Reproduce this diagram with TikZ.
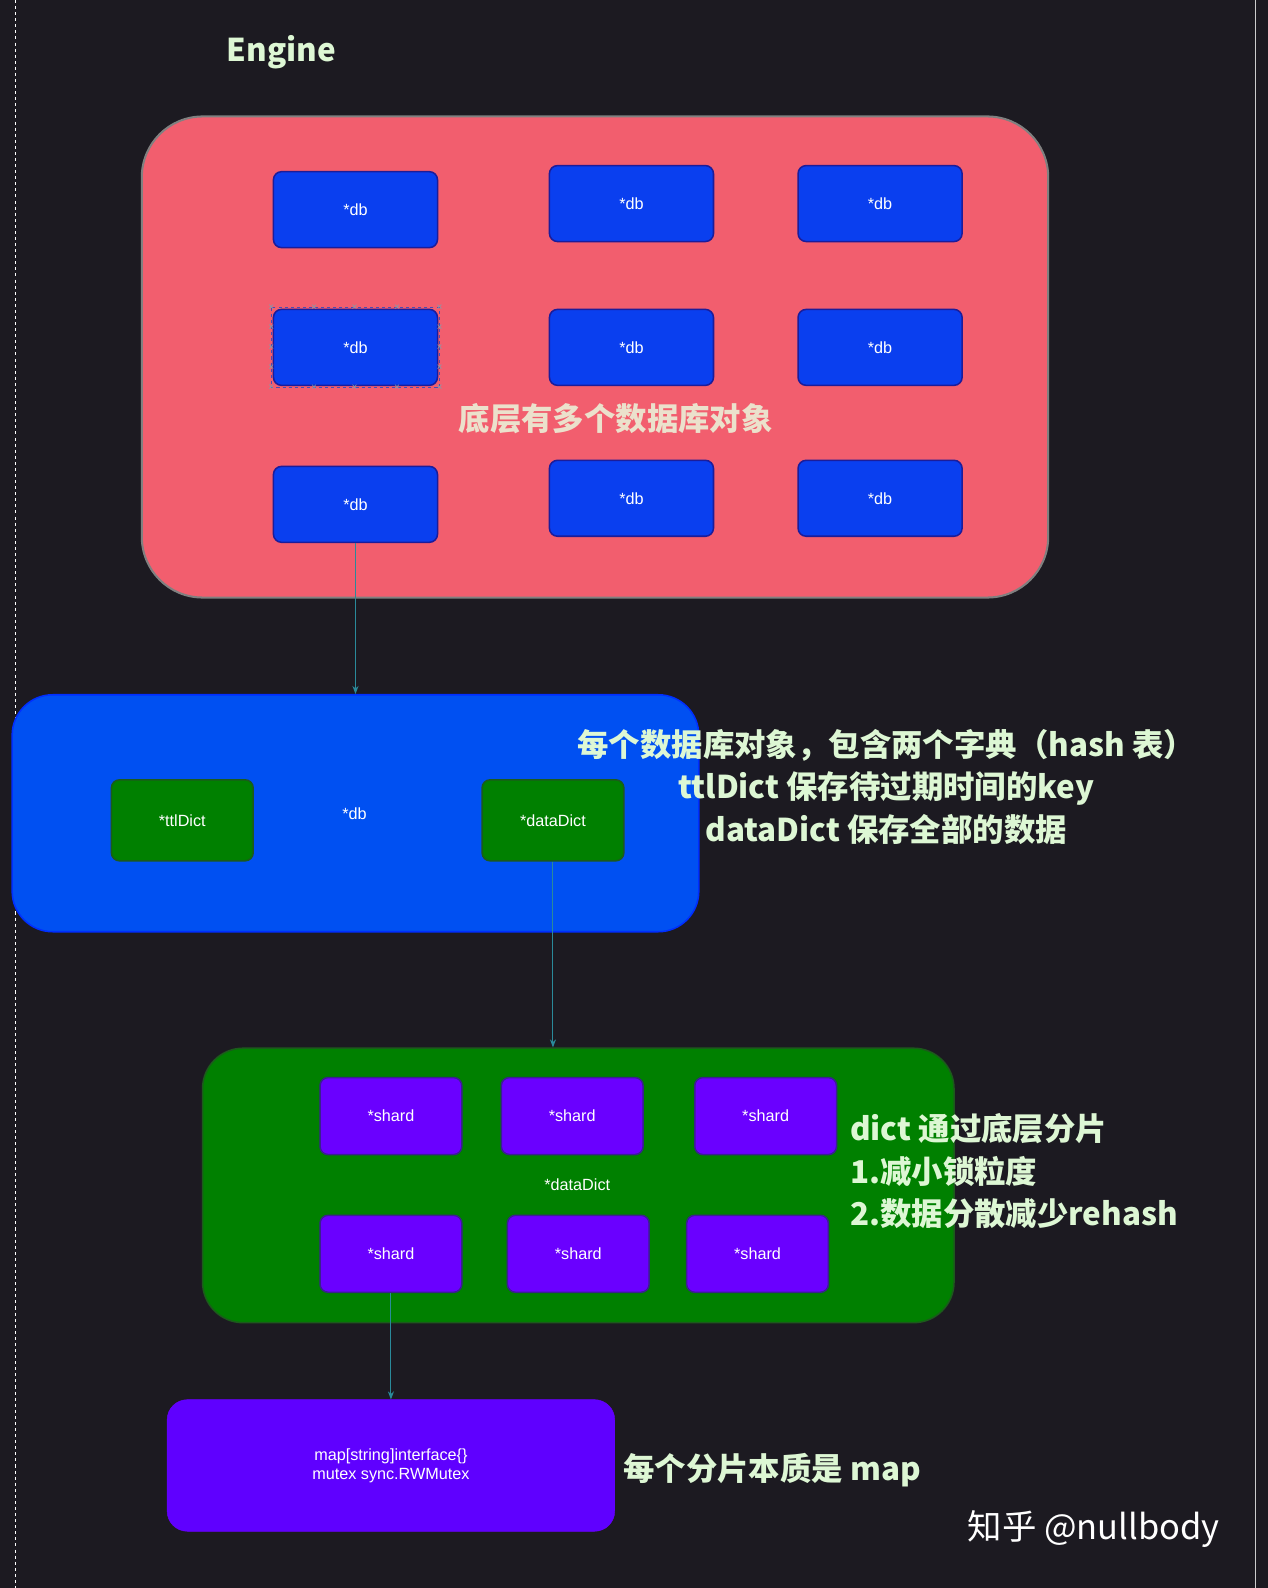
\documentclass[tikz,border=0pt]{standalone}
\usepackage{fontspec}
\setmainfont{Liberation Sans}
\newfontfamily\cjk{Noto Sans CJK SC}
\usetikzlibrary{arrows.meta}
\definecolor{bg}{HTML}{1C1A21}
\definecolor{redf}{HTML}{F25E6E}
\definecolor{dbf}{HTML}{0A3FEF}
\definecolor{dbd}{HTML}{1C1C9A}
\definecolor{bluef}{HTML}{0050F2}
\definecolor{greenf}{HTML}{008000}
\definecolor{greend}{HTML}{1C5A1C}
\definecolor{purf}{HTML}{6A00FF}
\definecolor{purd}{HTML}{3A2090}
\definecolor{teal}{HTML}{2A8A9A}
\definecolor{lgreen}{HTML}{DDF7D4}
\tikzset{x=1pt,y=-1pt,
 dbbox/.style={draw=dbd,fill=dbf,rounded corners=8pt,line width=1.5pt,minimum width=162pt,minimum height=75pt,text=white,font=\fontsize{16}{18}\selectfont},
 dictbox/.style={draw=greend,fill=greenf,rounded corners=8pt,line width=1.5pt,minimum width=140pt,minimum height=80pt,text=white,font=\fontsize{16}{18}\selectfont},
 shardbox/.style={draw=purd,fill=purf,rounded corners=8pt,line width=1.5pt,minimum width=140pt,minimum height=76pt,text=white,font=\fontsize{16}{18}\selectfont},
 conn/.style={draw=teal,line width=1pt,-{Stealth[length=8pt,width=6pt]}},
 big/.style={text=lgreen,font=\cjk\bfseries\fontsize{31}{42}\selectfont},
}
\begin{document}
\begin{tikzpicture}
\fill[bg] (0,0) rectangle (1252,1568);
\useasboundingbox (0,0) rectangle (1252,1568);
\draw[white,dashed,line width=1pt] (15,0) -- (15,1568);
\draw[gray!40,line width=1pt] (1240,0) -- (1240,1568);
\node[big,anchor=center] (eng) at (278,52) {Engine};
\node[draw=gray,fill=redf,rounded corners=60pt,line width=2pt,minimum width=895pt,minimum height=475pt] (engine) at (587.5,352.5) {};
\node[dbbox] (d1) at (351,207) {*db};
\node[dbbox] (d2) at (623.5,201) {*db};
\node[dbbox] (d3) at (869,201) {*db};
\node[dbbox] (d4) at (351,343) {*db};
\node[dbbox] (d5) at (623.5,343) {*db};
\node[dbbox] (d6) at (869,343) {*db};
\node[dbbox] (d7) at (351,498) {*db};
\node[dbbox] (d8) at (623.5,492) {*db};
\node[dbbox] (d9) at (869,492) {*db};
\draw[gray!60!blue,dashed,line width=1pt] (268,304) rectangle (434,383);
\foreach \px/\py in {268/304,310/304,350/304,392/304,434/304,268/383,310/383,350/383,392/383,434/383,268/324,268/343,268/363,434/324,434/343,434/363}
  \node[text=gray!70!cyan,font=\fontsize{10}{10}\selectfont,inner sep=0] at (\px,\py) {×};
\node[text=lgreen!60!pink,font=\cjk\bfseries\fontsize{31}{36}\selectfont] (t1) at (608,413) {底层有多个数据库对象};
\node[draw=blue!70!cyan!60!blue,fill=bluef,rounded corners=40pt,line width=1.5pt,minimum width=678pt,minimum height=234pt,text=white,font=\fontsize{16}{18}\selectfont] (dbbig) at (351,803) {};
\node[text=white,font=\fontsize{16}{18}\selectfont] at (350,803) {*db};
\node[dictbox] (ttl) at (180,810) {*ttlDict};
\node[dictbox] (data) at (546,810) {*dataDict};
\draw[conn] (d7.south) -- (dbbig.north -| d7.south);
\node[big,align=center] (t2) at (875,777) {每个数据库对象，包含两个字典（hash 表）\\ttlDict 保存待过期时间的key\\dataDict 保存全部的数据};
\node[draw=greend,fill=greenf,rounded corners=40pt,line width=1.5pt,minimum width=742pt,minimum height=271pt] (dict) at (571,1170.5) {};
\node[text=white,font=\fontsize{16}{18}\selectfont] at (570,1170) {*dataDict};
\draw[conn] (data.south) -- (dict.north -| data.south);
\node[shardbox] (s1) at (386,1102) {*shard};
\node[shardbox] (s2) at (565,1102) {*shard};
\node[shardbox] (s3) at (756,1102) {*shard};
\node[shardbox] (s4) at (386,1238) {*shard};
\node[shardbox] (s5) at (571,1238) {*shard};
\node[shardbox] (s6) at (748,1238) {*shard};
\node[big,align=left,anchor=north west] (t3) at (836,1096) {dict 通过底层分片\\1.减小锁粒度\\2.数据分散减少rehash};
\node[fill=purf!90!blue,draw=purf,rounded corners=20pt,minimum width=442pt,minimum height=130pt,align=center,text=white,font=\fontsize{16}{19}\selectfont] (map) at (386,1447) {map[string]interface\{\}\\mutex sync.RWMutex};
\draw[conn] (s4.south) -- (map.north -| s4.south);
\node[big,anchor=west] (t4) at (612,1452) {每个分片本质是 map};
\node[text=white,font=\cjk\fontsize{34}{40}\selectfont] (wm) at (1080,1510) {知乎 @nullbody};
\end{tikzpicture}
\end{document}
